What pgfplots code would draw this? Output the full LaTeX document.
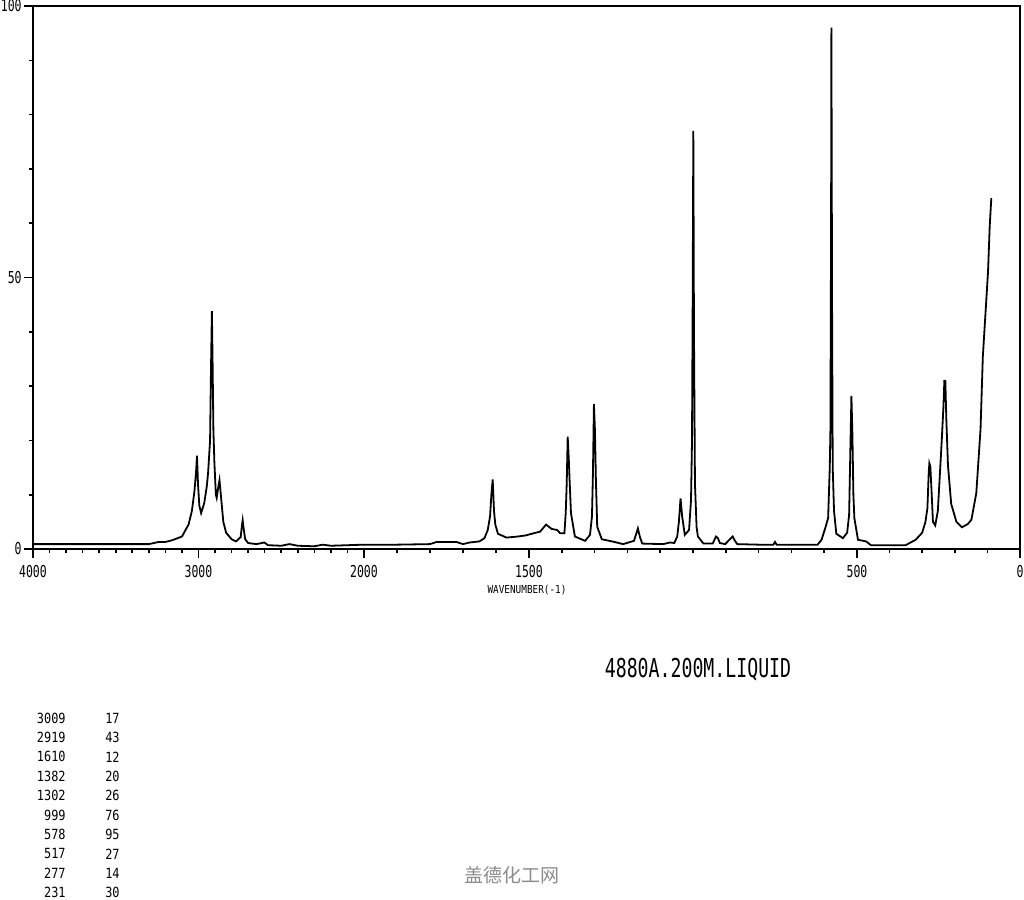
\documentclass[border=0pt]{standalone}
\usepackage{fontspec}
\usepackage{pgfplots}
\pgfplotsset{compat=1.18}
\newfontfamily\tickfont[FakeStretch=0.7]{DejaVu Sans Mono}
\newfontfamily\tabfont[FakeStretch=0.85]{DejaVu Sans Mono}
\newfontfamily\cjk{Noto Sans CJK SC}

\pgfplotstableread{
w I
4000 0.9
3600 0.9
3300 0.9
3240 1.3
3200 1.3
3160 1.6
3100 2.3
3060 4.5
3040 7
3025 10.5
3015 14
3009 17.2
3003 12
2995 8
2984 6.6
2965 8.5
2950 11.5
2942 14
2930 20
2925 32
2921 40
2919 43.8
2915 35
2910 22
2904 16
2895 10
2890 9.4
2880 11.5
2873 12.7
2865 10
2850 5
2833 3.0
2800 1.8
2773 1.4
2745 2.2
2738 4.2
2733 5.3
2728 4.0
2718 1.8
2700 1.1
2650 0.9
2602 1.2
2580 0.7
2500 0.6
2450 0.9
2400 0.6
2300 0.5
2250 0.8
2200 0.6
2100 0.7
2000 0.8
1900 0.8
1800 0.9
1780 1.3
1720 1.3
1700 0.9
1680 1.2
1650 1.4
1635 2.0
1625 3.5
1618 6
1614 10
1610 12.8
1606 7
1602 4.5
1594 2.8
1568 2.1
1534 2.3
1510 2.5
1492 2.8
1466 3.2
1448 4.5
1431 3.7
1414 3.5
1405 2.9
1392 2.9
1388 6.6
1385 12
1382 20.7
1379 17
1376 12.4
1372 6.6
1360 2.3
1329 1.5
1314 2.6
1308 6
1305 14
1302 26.7
1299 22
1296 12.7
1292 4.1
1278 1.8
1243 1.35
1213 0.9
1180 1.5
1172 3.0
1168 3.8
1163 2.5
1155 1.0
1091 0.9
1070 1.2
1057 1.1
1048 2.3
1043 5
1038 9.3
1033 6
1025 2.6
1012 3.5
1006 9
1003 20
1001 45
999 77
997 40
994 12
989 4
985 2.3
968 1.0
940 1.0
930 2.3
924 2.0
918 1.1
902 0.9
884 2.0
879 2.3
872 1.5
865 0.9
800 0.8
755 0.8
750 1.3
745 0.8
700 0.8
620 0.8
608 1.7
596 4
588 5.7
583 15
581 22
579 60
578 96
576 45
574 15
570 7
563 2.8
543 2.0
530 3
524 6.3
520 18.9
517 28.2
514 21.2
511 10
508 5.7
497 1.7
472 1.4
457 0.7
351 0.7
320 1.7
300 3.0
290 5.0
284 7.5
280 14
278 15.8
275 15.2
272 11.6
267 5.0
260 4.35
252 7.0
240 20
235 26
232 31
229 31
226 24
221 15.5
211 8.3
195 5.0
178 4.0
160 4.6
149 5.4
134 10.3
121 22.1
114 35.4
104 45.2
98 51.1
93 59.3
88 64.6
}\spectrum

\begin{document}
\begin{tikzpicture}
\useasboundingbox (0pt,0pt) rectangle (512pt,-450pt);
\begin{axis}[
  at={(16.5pt,-274.5pt)}, anchor=south west,
  scale only axis, width=493.5pt, height=271.5pt,
  xmin=0, xmax=987, x dir=reverse,
  ymin=0, ymax=100,
  axis line style={line width=1pt},
  tick pos=left, tick align=outside,
  major tick length=4.5pt, minor tick length=2pt,
  every tick/.style={black, line width=0.8pt},
  xtick={0,163,491,656,821.5,987},
  xticklabels={0,500,1500,2000,3000,4000},
  minor xtick={32.6,65.2,97.8,130.4,195.8,228.6,261.4,294.2,327,359.8,392.6,425.4,458.2,524,557,590,623,672.55,689.1,705.65,722.2,738.75,755.3,771.85,788.4,804.95,838.05,854.6,871.15,887.7,904.25,920.8,937.35,953.9,970.45},
  ytick={0,50,100},
  minor ytick={10,20,30,40,60,70,80,90},
  /pgf/number format/assume math mode=true,
  tick label style={font=\tickfont\fontsize{8.2}{9}\selectfont},
  yticklabel style={inner sep=1pt},
  x filter/.expression={x<=500 ? 0.326*x : (x<=1500 ? 163+0.328*(x-500) : (x<=2000 ? 491+0.33*(x-1500) : 656+0.1655*(x-2000)))},
]
\addplot[black, line width=0.9pt, sharp plot] table[x=w, y=I] {\spectrum};
\end{axis}
\node[font=\tabfont\fontsize{5.5}{6}\selectfont] at (263.5pt,-295pt) {WAVENUMBER(-1)};
\node[font=\tickfont\fontsize{13}{14}\selectfont] at (349pt,-335pt) {4880A.200M.LIQUID};
\foreach \a/\b [count=\i from 0] in {3009/17,2919/43,1610/12,1382/20,1302/26,999/76,578/95,517/27,277/14,231/30} {
  \node[font=\tabfont\fontsize{7}{8}\selectfont, anchor=east, inner sep=0pt] at (33pt,{-359pt-\i*9.7pt}) {\a};
  \node[font=\tabfont\fontsize{7}{8}\selectfont, anchor=east, inner sep=0pt] at (60pt,{-359pt-\i*9.7pt}) {\b};
}
\node[font=\cjk\fontsize{9.5}{10}\selectfont, text=black!45] at (256pt,-437.5pt) {盖德化工网};
\end{tikzpicture}
\end{document}
